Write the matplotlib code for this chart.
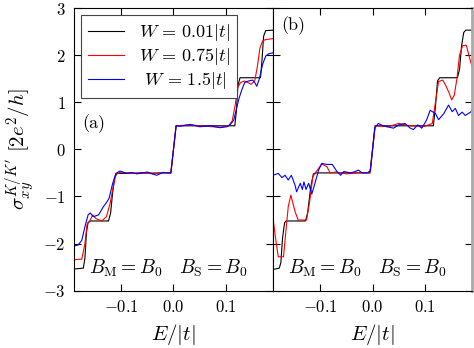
import matplotlib
matplotlib.use("Agg")
import matplotlib.pyplot as plt

plt.rcParams['font.family'] = 'serif'
plt.rcParams['font.serif'] = ['cmr10']
plt.rcParams['mathtext.fontset'] = 'cm'
plt.rcParams['axes.formatter.use_mathtext'] = True

# ---- panel (a) ----
E_a_black = [-0.19, -0.172, -0.169, -0.166, -0.163, -0.158, -0.124, -0.12, -0.116, -0.112, -0.108,
             -0.005, 0.0, 0.005, 0.117, 0.12, 0.123, 0.127, 0.166, 0.169, 0.172, 0.176, 0.19]
S_a_black = [-2.54, -2.52, -2.3, -1.75, -1.55, -1.52, -1.52, -1.35, -0.9, -0.6, -0.51,
             -0.5, 0.0, 0.5, 0.5, 0.8, 1.35, 1.52, 1.52, 1.9, 2.4, 2.52, 2.53]

E_a_red = [-0.19, -0.175, -0.169, -0.165, -0.159, -0.154, -0.148, -0.137, -0.128, -0.121, -0.115, -0.11,
           -0.1, -0.08, -0.06, -0.04, -0.02, -0.005, 0.0, 0.005, 0.03, 0.06, 0.09, 0.105, 0.112,
           0.118, 0.122, 0.128, 0.135, 0.142, 0.148, 0.155, 0.16, 0.165, 0.17, 0.176, 0.19]
S_a_red = [-2.34, -2.33, -2.0, -1.6, -1.5, -1.39, -1.47, -1.52, -1.43, -1.15, -0.79, -0.53,
           -0.48, -0.51, -0.49, -0.52, -0.49, -0.5, 0.0, 0.5, 0.52, 0.49, 0.47, 0.5, 0.6,
           0.95, 1.3, 1.42, 1.45, 1.42, 1.38, 1.45, 1.75, 2.15, 2.3, 2.33, 2.35]

E_a_blue = [-0.19, -0.182, -0.175, -0.169, -0.163, -0.159, -0.153, -0.143, -0.134, -0.128, -0.123,
            -0.116, -0.11, -0.102, -0.09, -0.08, -0.07, -0.06, -0.05, -0.04, -0.032, -0.02, -0.01,
            -0.005, 0.0, 0.005, 0.013, 0.032, 0.05, 0.07, 0.089, 0.102, 0.108, 0.115, 0.12, 0.125,
            0.13, 0.136, 0.143, 0.151, 0.155, 0.159, 0.164, 0.17, 0.176, 0.182, 0.19]
S_a_blue = [-2.05, -2.03, -1.93, -1.64, -1.39, -1.35, -1.43, -1.39, -1.22, -1.13, -1.04,
            -0.72, -0.51, -0.46, -0.51, -0.49, -0.52, -0.5, -0.48, -0.52, -0.55, -0.49, -0.5,
            -0.5, 0.0, 0.5, 0.49, 0.53, 0.48, 0.5, 0.46, 0.48, 0.52, 0.62, 0.85, 1.08,
            1.25, 1.42, 1.45, 1.47, 1.42, 1.34, 1.5, 1.8, 1.98, 2.03, 2.05]

# ---- panel (b) ----
E_b_black = [-0.19, -0.178, -0.175, -0.172, -0.168, -0.165, -0.128, -0.124, -0.118, -0.113, -0.108,
             -0.005, 0.0, 0.005, 0.116, 0.12, 0.124, 0.128, 0.162, 0.166, 0.17, 0.174, 0.178, 0.19]
S_b_black = [-2.55, -2.52, -2.4, -1.9, -1.56, -1.52, -1.52, -1.35, -0.8, -0.52, -0.5,
             -0.5, 0.0, 0.5, 0.5, 0.9, 1.45, 1.52, 1.52, 1.7, 2.2, 2.48, 2.53, 2.53]

E_b_red = [-0.19, -0.185, -0.18, -0.17, -0.166, -0.161, -0.156, -0.148, -0.142, -0.126, -0.12,
           -0.114, -0.108, -0.097, -0.087, -0.081, -0.07, -0.05, -0.03, -0.01, -0.005, 0.0, 0.005,
           0.03, 0.05, 0.07, 0.1, 0.114, 0.12, 0.126, 0.134, 0.14, 0.146, 0.151, 0.156, 0.161,
           0.166, 0.172, 0.179, 0.185, 0.19]
S_b_red = [-1.47, -1.9, -2.28, -2.28, -1.8, -1.22, -0.97, -1.32, -1.5, -1.5, -1.1,
           -0.58, -0.48, -0.31, -0.37, -0.5, -0.48, -0.52, -0.5, -0.49, -0.5, 0.0, 0.5,
           0.48, 0.55, 0.5, 0.49, 0.55, 1.0, 1.44, 1.47, 1.35, 1.2, 1.05, 1.15, 1.5,
           2.0, 2.2, 2.21, 1.95, 1.75]

E_b_blue = [-0.19, -0.18, -0.173, -0.167, -0.161, -0.155, -0.148, -0.145, -0.138, -0.134, -0.131,
            -0.127, -0.122, -0.116, -0.11, -0.103, -0.097, -0.087, -0.077, -0.068, -0.061, -0.055,
            -0.042, -0.033, -0.027, -0.02, -0.01, -0.004, 0.0, 0.004, 0.011, 0.02, 0.04, 0.05,
            0.062, 0.072, 0.078, 0.086, 0.094, 0.103, 0.11, 0.12, 0.126, 0.136, 0.145, 0.152,
            0.158, 0.164, 0.171, 0.177, 0.187, 0.19]
S_b_blue = [-0.55, -0.51, -0.6, -0.55, -0.65, -0.55, -0.76, -0.9, -0.72, -0.85, -0.69,
            -0.85, -0.72, -0.95, -0.72, -0.44, -0.3, -0.32, -0.32, -0.47, -0.55, -0.47,
            -0.5, -0.47, -0.44, -0.5, -0.5, -0.45, 0.0, 0.45, 0.55, 0.5, 0.45, 0.52,
            0.55, 0.45, 0.42, 0.52, 0.45, 0.62, 0.83, 0.76, 0.63, 0.76, 0.94, 0.8,
            0.87, 0.72, 0.79, 0.72, 0.79, 0.83]

labels = [r'$W\,=\,0.01|t|$', r'$W\,=\,0.75|t|$', r'$\ W\,=\,1.5|t|$']
colors = ['black', 'red', 'blue']

fig = plt.figure(figsize=(4.74, 3.48), dpi=100)
ax1 = fig.add_axes([0.156, 0.1646, 0.42, 0.8124])
ax2 = fig.add_axes([0.576, 0.1646, 0.42, 0.8124])

ax1.plot(E_a_black, S_a_black, color=colors[0], lw=0.8, label=labels[0])
ax1.plot(E_a_red, S_a_red, color=colors[1], lw=0.8, label=labels[1])
ax1.plot(E_a_blue, S_a_blue, color=colors[2], lw=0.8, label=labels[2])

ax2.plot(E_b_black, S_b_black, color=colors[0], lw=0.8)
ax2.plot(E_b_red, S_b_red, color=colors[1], lw=0.8)
ax2.plot(E_b_blue, S_b_blue, color=colors[2], lw=0.8)

for ax in (ax1, ax2):
    ax.set_xlim(-0.19, 0.19)
    ax.set_ylim(-3, 3)
    ax.set_xticks([-0.1, 0, 0.1])
    ax.set_yticks([-3, -2, -1, 0, 1, 2, 3])
    ax.tick_params(direction='in', top=True, right=True, length=5, labelsize=12, pad=6)
    ax.set_xlabel(r'$E/|t|$', fontsize=15, labelpad=5)
    ax.text(-0.162, -2.52, r'$B_{\rm M}=B_0\quad B_{\rm S}=B_0$', fontsize=14, va='center')

ax2.tick_params(labelleft=False)
ax2.spines['right'].set_color('#aaaaaa')
ax2.spines['right'].set_linewidth(2)

ax1.set_ylabel(r"$\sigma_{xy}^{K/K'}\ [2e^2/h]$", fontsize=15)
ax1.text(-0.175, 0.55, '(a)', fontsize=13, va='center')
ax2.text(-0.175, 2.63, '(b)', fontsize=13, va='center')

leg = ax1.legend(loc='upper left', fontsize=13, fancybox=False, framealpha=1,
                 edgecolor='#444444', labelspacing=0.15, borderaxespad=0.4)
leg.get_frame().set_linewidth(0.8)

fig.savefig('out.png', dpi=100)
